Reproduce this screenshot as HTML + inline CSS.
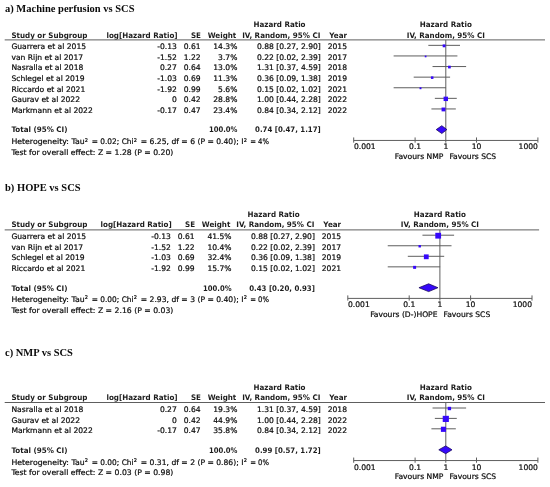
<!DOCTYPE html>
<html lang="en"><head><meta charset="utf-8"><title>Forest plots</title>
<style>
html,body{margin:0;padding:0;background:#fff;}
body{width:550px;height:487px;overflow:hidden;}
svg{display:block;}
text{white-space:pre;}
</style></head><body>
<svg width="550" height="487" viewBox="0 0 550 487">
<rect width="550" height="487" fill="#fff"/>
<text x="5.0" y="12.0" font-weight="bold" font-size="10.5" font-family="'Liberation Serif','DejaVu Serif',serif" fill="#0a0a0a">a) Machine perfusion vs SCS</text>
<text transform="translate(279.5,27.2) scale(0.943,1)" text-anchor="middle" font-weight="bold" font-size="7.6" font-family="'DejaVu Sans','Liberation Sans',sans-serif" fill="#1c1c1c">Hazard Ratio</text>
<text transform="translate(11.4,37.9) scale(0.943,1)" font-weight="bold" font-size="7.6" font-family="'DejaVu Sans','Liberation Sans',sans-serif" fill="#1c1c1c">Study or Subgroup</text>
<text transform="translate(177.6,37.9) scale(0.943,1)" text-anchor="end" font-weight="bold" font-size="7.6" font-family="'DejaVu Sans','Liberation Sans',sans-serif" fill="#1c1c1c">log[Hazard Ratio]</text>
<text transform="translate(201.0,37.9) scale(0.943,1)" text-anchor="end" font-weight="bold" font-size="7.6" font-family="'DejaVu Sans','Liberation Sans',sans-serif" fill="#1c1c1c">SE</text>
<text transform="translate(236.3,37.9) scale(0.943,1)" text-anchor="end" font-weight="bold" font-size="7.6" font-family="'DejaVu Sans','Liberation Sans',sans-serif" fill="#1c1c1c">Weight</text>
<text transform="translate(320.3,37.9) scale(0.943,1)" text-anchor="end" font-weight="bold" font-size="7.6" font-family="'DejaVu Sans','Liberation Sans',sans-serif" fill="#1c1c1c">IV, Random, 95% CI</text>
<text transform="translate(347.0,37.9) scale(0.943,1)" text-anchor="end" font-weight="bold" font-size="7.6" font-family="'DejaVu Sans','Liberation Sans',sans-serif" fill="#1c1c1c">Year</text>
<text transform="translate(445.8,27.2) scale(0.943,1)" text-anchor="middle" font-weight="bold" font-size="7.6" font-family="'DejaVu Sans','Liberation Sans',sans-serif" fill="#1c1c1c">Hazard Ratio</text>
<text transform="translate(445.8,37.9) scale(0.943,1)" text-anchor="middle" font-weight="bold" font-size="7.6" font-family="'DejaVu Sans','Liberation Sans',sans-serif" fill="#1c1c1c">IV, Random, 95% CI</text>
<line x1="4.70" y1="39.90" x2="545.00" y2="39.90" stroke="#5e5e5e" stroke-width="1.0"/>
<line x1="445.80" y1="39.90" x2="445.80" y2="142.65" stroke="#5e5e5e" stroke-width="1.0"/>
<text x="11.4" y="49.2" stroke="#111" stroke-width="0.22" font-size="7.6" font-family="'DejaVu Sans','Liberation Sans',sans-serif" fill="#0a0a0a">Guarrera et al 2015</text>
<text x="176.8" y="49.2" text-anchor="end" stroke="#111" stroke-width="0.22" font-size="7.6" font-family="'DejaVu Sans','Liberation Sans',sans-serif" fill="#0a0a0a">-0.13</text>
<text x="200.6" y="49.2" text-anchor="end" stroke="#111" stroke-width="0.22" font-size="7.6" font-family="'DejaVu Sans','Liberation Sans',sans-serif" fill="#0a0a0a">0.61</text>
<text x="237.4" y="49.2" text-anchor="end" stroke="#111" stroke-width="0.22" font-size="7.6" font-family="'DejaVu Sans','Liberation Sans',sans-serif" fill="#0a0a0a">14.3%</text>
<text x="320.8" y="49.2" text-anchor="end" stroke="#111" stroke-width="0.22" font-size="7.6" font-family="'DejaVu Sans','Liberation Sans',sans-serif" fill="#0a0a0a">0.88 [0.27, 2.90]</text>
<text x="347.0" y="49.2" text-anchor="end" stroke="#111" stroke-width="0.22" font-size="7.6" font-family="'DejaVu Sans','Liberation Sans',sans-serif" fill="#0a0a0a">2015</text>
<line x1="428.34" y1="45.35" x2="460.00" y2="45.35" stroke="#5e5e5e" stroke-width="1.0"/>
<text x="11.4" y="59.8" stroke="#111" stroke-width="0.22" font-size="7.6" font-family="'DejaVu Sans','Liberation Sans',sans-serif" fill="#0a0a0a">van Rijn et al 2017</text>
<text x="176.8" y="59.8" text-anchor="end" stroke="#111" stroke-width="0.22" font-size="7.6" font-family="'DejaVu Sans','Liberation Sans',sans-serif" fill="#0a0a0a">-1.52</text>
<text x="200.6" y="59.8" text-anchor="end" stroke="#111" stroke-width="0.22" font-size="7.6" font-family="'DejaVu Sans','Liberation Sans',sans-serif" fill="#0a0a0a">1.22</text>
<text x="237.4" y="59.8" text-anchor="end" stroke="#111" stroke-width="0.22" font-size="7.6" font-family="'DejaVu Sans','Liberation Sans',sans-serif" fill="#0a0a0a">3.7%</text>
<text x="320.8" y="59.8" text-anchor="end" stroke="#111" stroke-width="0.22" font-size="7.6" font-family="'DejaVu Sans','Liberation Sans',sans-serif" fill="#0a0a0a">0.22 [0.02, 2.39]</text>
<text x="347.0" y="59.8" text-anchor="end" stroke="#111" stroke-width="0.22" font-size="7.6" font-family="'DejaVu Sans','Liberation Sans',sans-serif" fill="#0a0a0a">2017</text>
<line x1="393.64" y1="55.95" x2="457.42" y2="55.95" stroke="#5e5e5e" stroke-width="1.0"/>
<text x="11.4" y="70.4" stroke="#111" stroke-width="0.22" font-size="7.6" font-family="'DejaVu Sans','Liberation Sans',sans-serif" fill="#0a0a0a">Nasralla et al 2018</text>
<text x="176.8" y="70.4" text-anchor="end" stroke="#111" stroke-width="0.22" font-size="7.6" font-family="'DejaVu Sans','Liberation Sans',sans-serif" fill="#0a0a0a">0.27</text>
<text x="200.6" y="70.4" text-anchor="end" stroke="#111" stroke-width="0.22" font-size="7.6" font-family="'DejaVu Sans','Liberation Sans',sans-serif" fill="#0a0a0a">0.64</text>
<text x="237.4" y="70.4" text-anchor="end" stroke="#111" stroke-width="0.22" font-size="7.6" font-family="'DejaVu Sans','Liberation Sans',sans-serif" fill="#0a0a0a">13.0%</text>
<text x="320.8" y="70.4" text-anchor="end" stroke="#111" stroke-width="0.22" font-size="7.6" font-family="'DejaVu Sans','Liberation Sans',sans-serif" fill="#0a0a0a">1.31 [0.37, 4.59]</text>
<text x="347.0" y="70.4" text-anchor="end" stroke="#111" stroke-width="0.22" font-size="7.6" font-family="'DejaVu Sans','Liberation Sans',sans-serif" fill="#0a0a0a">2018</text>
<line x1="432.54" y1="66.55" x2="466.12" y2="66.55" stroke="#5e5e5e" stroke-width="1.0"/>
<text x="11.4" y="81.0" stroke="#111" stroke-width="0.22" font-size="7.6" font-family="'DejaVu Sans','Liberation Sans',sans-serif" fill="#0a0a0a">Schlegel et al 2019</text>
<text x="176.8" y="81.0" text-anchor="end" stroke="#111" stroke-width="0.22" font-size="7.6" font-family="'DejaVu Sans','Liberation Sans',sans-serif" fill="#0a0a0a">-1.03</text>
<text x="200.6" y="81.0" text-anchor="end" stroke="#111" stroke-width="0.22" font-size="7.6" font-family="'DejaVu Sans','Liberation Sans',sans-serif" fill="#0a0a0a">0.69</text>
<text x="237.4" y="81.0" text-anchor="end" stroke="#111" stroke-width="0.22" font-size="7.6" font-family="'DejaVu Sans','Liberation Sans',sans-serif" fill="#0a0a0a">11.3%</text>
<text x="320.8" y="81.0" text-anchor="end" stroke="#111" stroke-width="0.22" font-size="7.6" font-family="'DejaVu Sans','Liberation Sans',sans-serif" fill="#0a0a0a">0.36 [0.09, 1.38]</text>
<text x="347.0" y="81.0" text-anchor="end" stroke="#111" stroke-width="0.22" font-size="7.6" font-family="'DejaVu Sans','Liberation Sans',sans-serif" fill="#0a0a0a">2019</text>
<line x1="413.70" y1="77.15" x2="450.09" y2="77.15" stroke="#5e5e5e" stroke-width="1.0"/>
<text x="11.4" y="91.6" stroke="#111" stroke-width="0.22" font-size="7.6" font-family="'DejaVu Sans','Liberation Sans',sans-serif" fill="#0a0a0a">Riccardo et al 2021</text>
<text x="176.8" y="91.6" text-anchor="end" stroke="#111" stroke-width="0.22" font-size="7.6" font-family="'DejaVu Sans','Liberation Sans',sans-serif" fill="#0a0a0a">-1.92</text>
<text x="200.6" y="91.6" text-anchor="end" stroke="#111" stroke-width="0.22" font-size="7.6" font-family="'DejaVu Sans','Liberation Sans',sans-serif" fill="#0a0a0a">0.99</text>
<text x="237.4" y="91.6" text-anchor="end" stroke="#111" stroke-width="0.22" font-size="7.6" font-family="'DejaVu Sans','Liberation Sans',sans-serif" fill="#0a0a0a">5.6%</text>
<text x="320.8" y="91.6" text-anchor="end" stroke="#111" stroke-width="0.22" font-size="7.6" font-family="'DejaVu Sans','Liberation Sans',sans-serif" fill="#0a0a0a">0.15 [0.02, 1.02]</text>
<text x="347.0" y="91.6" text-anchor="end" stroke="#111" stroke-width="0.22" font-size="7.6" font-family="'DejaVu Sans','Liberation Sans',sans-serif" fill="#0a0a0a">2021</text>
<line x1="393.64" y1="87.75" x2="446.06" y2="87.75" stroke="#5e5e5e" stroke-width="1.0"/>
<text x="11.4" y="102.2" stroke="#111" stroke-width="0.22" font-size="7.6" font-family="'DejaVu Sans','Liberation Sans',sans-serif" fill="#0a0a0a">Gaurav et al 2022</text>
<text x="176.8" y="102.2" text-anchor="end" stroke="#111" stroke-width="0.22" font-size="7.6" font-family="'DejaVu Sans','Liberation Sans',sans-serif" fill="#0a0a0a">0</text>
<text x="200.6" y="102.2" text-anchor="end" stroke="#111" stroke-width="0.22" font-size="7.6" font-family="'DejaVu Sans','Liberation Sans',sans-serif" fill="#0a0a0a">0.42</text>
<text x="237.4" y="102.2" text-anchor="end" stroke="#111" stroke-width="0.22" font-size="7.6" font-family="'DejaVu Sans','Liberation Sans',sans-serif" fill="#0a0a0a">28.8%</text>
<text x="320.8" y="102.2" text-anchor="end" stroke="#111" stroke-width="0.22" font-size="7.6" font-family="'DejaVu Sans','Liberation Sans',sans-serif" fill="#0a0a0a">1.00 [0.44, 2.28]</text>
<text x="347.0" y="102.2" text-anchor="end" stroke="#111" stroke-width="0.22" font-size="7.6" font-family="'DejaVu Sans','Liberation Sans',sans-serif" fill="#0a0a0a">2022</text>
<line x1="434.85" y1="98.35" x2="456.79" y2="98.35" stroke="#5e5e5e" stroke-width="1.0"/>
<text x="11.4" y="112.8" stroke="#111" stroke-width="0.22" font-size="7.6" font-family="'DejaVu Sans','Liberation Sans',sans-serif" fill="#0a0a0a">Markmann et al 2022</text>
<text x="176.8" y="112.8" text-anchor="end" stroke="#111" stroke-width="0.22" font-size="7.6" font-family="'DejaVu Sans','Liberation Sans',sans-serif" fill="#0a0a0a">-0.17</text>
<text x="200.6" y="112.8" text-anchor="end" stroke="#111" stroke-width="0.22" font-size="7.6" font-family="'DejaVu Sans','Liberation Sans',sans-serif" fill="#0a0a0a">0.47</text>
<text x="237.4" y="112.8" text-anchor="end" stroke="#111" stroke-width="0.22" font-size="7.6" font-family="'DejaVu Sans','Liberation Sans',sans-serif" fill="#0a0a0a">23.4%</text>
<text x="320.8" y="112.8" text-anchor="end" stroke="#111" stroke-width="0.22" font-size="7.6" font-family="'DejaVu Sans','Liberation Sans',sans-serif" fill="#0a0a0a">0.84 [0.34, 2.12]</text>
<text x="347.0" y="112.8" text-anchor="end" stroke="#111" stroke-width="0.22" font-size="7.6" font-family="'DejaVu Sans','Liberation Sans',sans-serif" fill="#0a0a0a">2022</text>
<line x1="431.42" y1="108.95" x2="455.82" y2="108.95" stroke="#5e5e5e" stroke-width="1.0"/>
<rect x="442.67" y="44.43" width="2.84" height="2.84" fill="#3608fb"/>
<rect x="424.76" y="55.60" width="1.70" height="1.70" fill="#3608fb"/>
<rect x="448.05" y="65.70" width="2.70" height="2.70" fill="#3608fb"/>
<rect x="430.92" y="76.39" width="2.52" height="2.52" fill="#3608fb"/>
<rect x="419.55" y="87.30" width="1.90" height="1.90" fill="#3608fb"/>
<rect x="443.59" y="96.64" width="4.41" height="4.41" fill="#3608fb"/>
<rect x="441.56" y="107.54" width="3.83" height="3.83" fill="#3608fb"/>
<text transform="translate(11.4,132.2) scale(0.943,1)" font-weight="bold" font-size="7.6" font-family="'DejaVu Sans','Liberation Sans',sans-serif" fill="#1c1c1c">Total (95% CI)</text>
<text transform="translate(237.4,132.2) scale(0.943,1)" text-anchor="end" font-weight="bold" textLength="30.2" lengthAdjust="spacingAndGlyphs" font-size="7.6" font-family="'DejaVu Sans','Liberation Sans',sans-serif" fill="#1c1c1c">100.0%</text>
<text transform="translate(320.8,132.2) scale(0.943,1)" text-anchor="end" font-weight="bold" textLength="69.7" lengthAdjust="spacingAndGlyphs" font-size="7.6" font-family="'DejaVu Sans','Liberation Sans',sans-serif" fill="#1c1c1c">0.74 [0.47, 1.17]</text>
<text x="11.4" y="144.2" stroke="#111" stroke-width="0.22" textLength="73.2" lengthAdjust="spacingAndGlyphs" font-size="7.6" font-family="'DejaVu Sans','Liberation Sans',sans-serif" fill="#0a0a0a">Heterogeneity: Tau</text>
<text x="84.7" y="141.5" stroke="#111" stroke-width="0.22" font-size="5" font-family="'DejaVu Sans','Liberation Sans',sans-serif" fill="#0a0a0a">2</text>
<text x="91.7" y="144.2" stroke="#111" stroke-width="0.22" textLength="41.9" lengthAdjust="spacingAndGlyphs" font-size="7.6" font-family="'DejaVu Sans','Liberation Sans',sans-serif" fill="#0a0a0a">= 0.02; Chi</text>
<text x="133.8" y="141.5" stroke="#111" stroke-width="0.22" font-size="5" font-family="'DejaVu Sans','Liberation Sans',sans-serif" fill="#0a0a0a">2</text>
<text x="140.8" y="144.2" stroke="#111" stroke-width="0.22" textLength="102.6" lengthAdjust="spacingAndGlyphs" font-size="7.6" font-family="'DejaVu Sans','Liberation Sans',sans-serif" fill="#0a0a0a">= 6.25, df = 6 (P = 0.40); I</text>
<text x="243.8" y="141.5" stroke="#111" stroke-width="0.22" font-size="5" font-family="'DejaVu Sans','Liberation Sans',sans-serif" fill="#0a0a0a">2</text>
<text x="250.2" y="144.2" stroke="#111" stroke-width="0.22" textLength="18.8" lengthAdjust="spacingAndGlyphs" font-size="7.6" font-family="'DejaVu Sans','Liberation Sans',sans-serif" fill="#0a0a0a">= 4%</text>
<text x="11.4" y="155.1" stroke="#111" stroke-width="0.22" textLength="162.0" lengthAdjust="spacingAndGlyphs" font-size="7.6" font-family="'DejaVu Sans','Liberation Sans',sans-serif" fill="#0a0a0a">Test for overall effect: Z = 1.28 (P = 0.20)</text>
<polygon points="436.23,129.60 441.79,125.70 446.89,129.60 441.79,133.50" fill="#3608fb" stroke="#1a0a60" stroke-width="0.8" stroke-linejoin="round"/>
<line x1="353.70" y1="140.45" x2="537.90" y2="140.45" stroke="#5e5e5e" stroke-width="1.0"/>
<line x1="353.70" y1="137.45" x2="353.70" y2="142.65" stroke="#5e5e5e" stroke-width="1.0"/>
<line x1="415.10" y1="137.45" x2="415.10" y2="142.65" stroke="#5e5e5e" stroke-width="1.0"/>
<line x1="476.50" y1="137.45" x2="476.50" y2="142.65" stroke="#5e5e5e" stroke-width="1.0"/>
<line x1="537.90" y1="137.45" x2="537.90" y2="142.65" stroke="#5e5e5e" stroke-width="1.0"/>
<text x="353.9" y="149.4" stroke="#111" stroke-width="0.22" textLength="21.8" lengthAdjust="spacingAndGlyphs" font-size="7.6" font-family="'DejaVu Sans','Liberation Sans',sans-serif" fill="#0a0a0a">0.001</text>
<text x="415.1" y="149.4" text-anchor="middle" stroke="#111" stroke-width="0.22" font-size="7.6" font-family="'DejaVu Sans','Liberation Sans',sans-serif" fill="#0a0a0a">0.1</text>
<text x="445.8" y="149.4" text-anchor="middle" stroke="#111" stroke-width="0.22" font-size="7.6" font-family="'DejaVu Sans','Liberation Sans',sans-serif" fill="#0a0a0a">1</text>
<text x="476.5" y="149.4" text-anchor="middle" stroke="#111" stroke-width="0.22" font-size="7.6" font-family="'DejaVu Sans','Liberation Sans',sans-serif" fill="#0a0a0a">10</text>
<text x="537.9" y="149.4" text-anchor="end" stroke="#111" stroke-width="0.22" font-size="7.6" font-family="'DejaVu Sans','Liberation Sans',sans-serif" fill="#0a0a0a">1000</text>
<text x="443.4" y="158.7" text-anchor="end" stroke="#111" stroke-width="0.22" font-size="7.6" font-family="'DejaVu Sans','Liberation Sans',sans-serif" fill="#0a0a0a">Favours NMP</text>
<text x="449.4" y="158.7" stroke="#111" stroke-width="0.22" font-size="7.6" font-family="'DejaVu Sans','Liberation Sans',sans-serif" fill="#0a0a0a">Favours SCS</text>
<text x="5.0" y="190.5" font-weight="bold" font-size="10.5" font-family="'Liberation Serif','DejaVu Serif',serif" fill="#0a0a0a">b) HOPE vs SCS</text>
<text transform="translate(273.6,216.6) scale(0.943,1)" text-anchor="middle" font-weight="bold" font-size="7.6" font-family="'DejaVu Sans','Liberation Sans',sans-serif" fill="#1c1c1c">Hazard Ratio</text>
<text transform="translate(11.4,227.2) scale(0.943,1)" font-weight="bold" font-size="7.6" font-family="'DejaVu Sans','Liberation Sans',sans-serif" fill="#1c1c1c">Study or Subgroup</text>
<text transform="translate(171.7,227.2) scale(0.943,1)" text-anchor="end" font-weight="bold" font-size="7.6" font-family="'DejaVu Sans','Liberation Sans',sans-serif" fill="#1c1c1c">log[Hazard Ratio]</text>
<text transform="translate(195.1,227.2) scale(0.943,1)" text-anchor="end" font-weight="bold" font-size="7.6" font-family="'DejaVu Sans','Liberation Sans',sans-serif" fill="#1c1c1c">SE</text>
<text transform="translate(230.4,227.2) scale(0.943,1)" text-anchor="end" font-weight="bold" font-size="7.6" font-family="'DejaVu Sans','Liberation Sans',sans-serif" fill="#1c1c1c">Weight</text>
<text transform="translate(314.4,227.2) scale(0.943,1)" text-anchor="end" font-weight="bold" font-size="7.6" font-family="'DejaVu Sans','Liberation Sans',sans-serif" fill="#1c1c1c">IV, Random, 95% CI</text>
<text transform="translate(341.1,227.2) scale(0.943,1)" text-anchor="end" font-weight="bold" font-size="7.6" font-family="'DejaVu Sans','Liberation Sans',sans-serif" fill="#1c1c1c">Year</text>
<text transform="translate(439.9,216.6) scale(0.943,1)" text-anchor="middle" font-weight="bold" font-size="7.6" font-family="'DejaVu Sans','Liberation Sans',sans-serif" fill="#1c1c1c">Hazard Ratio</text>
<text transform="translate(439.9,227.2) scale(0.943,1)" text-anchor="middle" font-weight="bold" font-size="7.6" font-family="'DejaVu Sans','Liberation Sans',sans-serif" fill="#1c1c1c">IV, Random, 95% CI</text>
<line x1="4.70" y1="229.90" x2="539.10" y2="229.90" stroke="#5e5e5e" stroke-width="1.0"/>
<line x1="439.90" y1="229.90" x2="439.90" y2="300.60" stroke="#5e5e5e" stroke-width="1.0"/>
<text x="11.4" y="239.1" stroke="#111" stroke-width="0.22" font-size="7.6" font-family="'DejaVu Sans','Liberation Sans',sans-serif" fill="#0a0a0a">Guarrera et al 2015</text>
<text x="170.9" y="239.1" text-anchor="end" stroke="#111" stroke-width="0.22" font-size="7.6" font-family="'DejaVu Sans','Liberation Sans',sans-serif" fill="#0a0a0a">-0.13</text>
<text x="194.7" y="239.1" text-anchor="end" stroke="#111" stroke-width="0.22" font-size="7.6" font-family="'DejaVu Sans','Liberation Sans',sans-serif" fill="#0a0a0a">0.61</text>
<text x="231.5" y="239.1" text-anchor="end" stroke="#111" stroke-width="0.22" font-size="7.6" font-family="'DejaVu Sans','Liberation Sans',sans-serif" fill="#0a0a0a">41.5%</text>
<text x="314.9" y="239.1" text-anchor="end" stroke="#111" stroke-width="0.22" font-size="7.6" font-family="'DejaVu Sans','Liberation Sans',sans-serif" fill="#0a0a0a">0.88 [0.27, 2.90]</text>
<text x="341.1" y="239.1" text-anchor="end" stroke="#111" stroke-width="0.22" font-size="7.6" font-family="'DejaVu Sans','Liberation Sans',sans-serif" fill="#0a0a0a">2015</text>
<line x1="422.44" y1="235.20" x2="454.10" y2="235.20" stroke="#5e5e5e" stroke-width="1.0"/>
<text x="11.4" y="249.7" stroke="#111" stroke-width="0.22" font-size="7.6" font-family="'DejaVu Sans','Liberation Sans',sans-serif" fill="#0a0a0a">van Rijn et al 2017</text>
<text x="170.9" y="249.7" text-anchor="end" stroke="#111" stroke-width="0.22" font-size="7.6" font-family="'DejaVu Sans','Liberation Sans',sans-serif" fill="#0a0a0a">-1.52</text>
<text x="194.7" y="249.7" text-anchor="end" stroke="#111" stroke-width="0.22" font-size="7.6" font-family="'DejaVu Sans','Liberation Sans',sans-serif" fill="#0a0a0a">1.22</text>
<text x="231.5" y="249.7" text-anchor="end" stroke="#111" stroke-width="0.22" font-size="7.6" font-family="'DejaVu Sans','Liberation Sans',sans-serif" fill="#0a0a0a">10.4%</text>
<text x="314.9" y="249.7" text-anchor="end" stroke="#111" stroke-width="0.22" font-size="7.6" font-family="'DejaVu Sans','Liberation Sans',sans-serif" fill="#0a0a0a">0.22 [0.02, 2.39]</text>
<text x="341.1" y="249.7" text-anchor="end" stroke="#111" stroke-width="0.22" font-size="7.6" font-family="'DejaVu Sans','Liberation Sans',sans-serif" fill="#0a0a0a">2017</text>
<line x1="387.74" y1="245.75" x2="451.52" y2="245.75" stroke="#5e5e5e" stroke-width="1.0"/>
<text x="11.4" y="260.2" stroke="#111" stroke-width="0.22" font-size="7.6" font-family="'DejaVu Sans','Liberation Sans',sans-serif" fill="#0a0a0a">Schlegel et al 2019</text>
<text x="170.9" y="260.2" text-anchor="end" stroke="#111" stroke-width="0.22" font-size="7.6" font-family="'DejaVu Sans','Liberation Sans',sans-serif" fill="#0a0a0a">-1.03</text>
<text x="194.7" y="260.2" text-anchor="end" stroke="#111" stroke-width="0.22" font-size="7.6" font-family="'DejaVu Sans','Liberation Sans',sans-serif" fill="#0a0a0a">0.69</text>
<text x="231.5" y="260.2" text-anchor="end" stroke="#111" stroke-width="0.22" font-size="7.6" font-family="'DejaVu Sans','Liberation Sans',sans-serif" fill="#0a0a0a">32.4%</text>
<text x="314.9" y="260.2" text-anchor="end" stroke="#111" stroke-width="0.22" font-size="7.6" font-family="'DejaVu Sans','Liberation Sans',sans-serif" fill="#0a0a0a">0.36 [0.09, 1.38]</text>
<text x="341.1" y="260.2" text-anchor="end" stroke="#111" stroke-width="0.22" font-size="7.6" font-family="'DejaVu Sans','Liberation Sans',sans-serif" fill="#0a0a0a">2019</text>
<line x1="407.80" y1="256.30" x2="444.19" y2="256.30" stroke="#5e5e5e" stroke-width="1.0"/>
<text x="11.4" y="270.8" stroke="#111" stroke-width="0.22" font-size="7.6" font-family="'DejaVu Sans','Liberation Sans',sans-serif" fill="#0a0a0a">Riccardo et al 2021</text>
<text x="170.9" y="270.8" text-anchor="end" stroke="#111" stroke-width="0.22" font-size="7.6" font-family="'DejaVu Sans','Liberation Sans',sans-serif" fill="#0a0a0a">-1.92</text>
<text x="194.7" y="270.8" text-anchor="end" stroke="#111" stroke-width="0.22" font-size="7.6" font-family="'DejaVu Sans','Liberation Sans',sans-serif" fill="#0a0a0a">0.99</text>
<text x="231.5" y="270.8" text-anchor="end" stroke="#111" stroke-width="0.22" font-size="7.6" font-family="'DejaVu Sans','Liberation Sans',sans-serif" fill="#0a0a0a">15.7%</text>
<text x="314.9" y="270.8" text-anchor="end" stroke="#111" stroke-width="0.22" font-size="7.6" font-family="'DejaVu Sans','Liberation Sans',sans-serif" fill="#0a0a0a">0.15 [0.02, 1.02]</text>
<text x="341.1" y="270.8" text-anchor="end" stroke="#111" stroke-width="0.22" font-size="7.6" font-family="'DejaVu Sans','Liberation Sans',sans-serif" fill="#0a0a0a">2021</text>
<line x1="387.74" y1="266.85" x2="440.16" y2="266.85" stroke="#5e5e5e" stroke-width="1.0"/>
<rect x="435.30" y="232.81" width="5.78" height="5.78" fill="#3608fb"/>
<rect x="418.50" y="245.04" width="2.42" height="2.42" fill="#3608fb"/>
<rect x="423.88" y="254.40" width="4.80" height="4.80" fill="#3608fb"/>
<rect x="413.11" y="265.85" width="3.00" height="3.00" fill="#3608fb"/>
<text transform="translate(11.4,291.4) scale(0.943,1)" font-weight="bold" font-size="7.6" font-family="'DejaVu Sans','Liberation Sans',sans-serif" fill="#1c1c1c">Total (95% CI)</text>
<text transform="translate(231.5,291.4) scale(0.943,1)" text-anchor="end" font-weight="bold" textLength="30.2" lengthAdjust="spacingAndGlyphs" font-size="7.6" font-family="'DejaVu Sans','Liberation Sans',sans-serif" fill="#1c1c1c">100.0%</text>
<text transform="translate(314.9,291.4) scale(0.943,1)" text-anchor="end" font-weight="bold" textLength="69.7" lengthAdjust="spacingAndGlyphs" font-size="7.6" font-family="'DejaVu Sans','Liberation Sans',sans-serif" fill="#1c1c1c">0.43 [0.20, 0.93]</text>
<text x="11.4" y="301.6" stroke="#111" stroke-width="0.22" textLength="73.2" lengthAdjust="spacingAndGlyphs" font-size="7.6" font-family="'DejaVu Sans','Liberation Sans',sans-serif" fill="#0a0a0a">Heterogeneity: Tau</text>
<text x="84.7" y="298.9" stroke="#111" stroke-width="0.22" font-size="5" font-family="'DejaVu Sans','Liberation Sans',sans-serif" fill="#0a0a0a">2</text>
<text x="91.7" y="301.6" stroke="#111" stroke-width="0.22" textLength="41.9" lengthAdjust="spacingAndGlyphs" font-size="7.6" font-family="'DejaVu Sans','Liberation Sans',sans-serif" fill="#0a0a0a">= 0.00; Chi</text>
<text x="133.8" y="298.9" stroke="#111" stroke-width="0.22" font-size="5" font-family="'DejaVu Sans','Liberation Sans',sans-serif" fill="#0a0a0a">2</text>
<text x="140.8" y="301.6" stroke="#111" stroke-width="0.22" textLength="102.6" lengthAdjust="spacingAndGlyphs" font-size="7.6" font-family="'DejaVu Sans','Liberation Sans',sans-serif" fill="#0a0a0a">= 2.93, df = 3 (P = 0.40); I</text>
<text x="243.8" y="298.9" stroke="#111" stroke-width="0.22" font-size="5" font-family="'DejaVu Sans','Liberation Sans',sans-serif" fill="#0a0a0a">2</text>
<text x="250.2" y="301.6" stroke="#111" stroke-width="0.22" textLength="18.8" lengthAdjust="spacingAndGlyphs" font-size="7.6" font-family="'DejaVu Sans','Liberation Sans',sans-serif" fill="#0a0a0a">= 0%</text>
<text x="11.4" y="312.8" stroke="#111" stroke-width="0.22" textLength="162.0" lengthAdjust="spacingAndGlyphs" font-size="7.6" font-family="'DejaVu Sans','Liberation Sans',sans-serif" fill="#0a0a0a">Test for overall effect: Z = 2.16 (P = 0.03)</text>
<polygon points="418.94,287.70 428.65,283.80 437.93,287.70 428.65,291.60" fill="#3608fb" stroke="#1a0a60" stroke-width="0.8" stroke-linejoin="round"/>
<line x1="347.80" y1="298.40" x2="532.00" y2="298.40" stroke="#5e5e5e" stroke-width="1.0"/>
<line x1="347.80" y1="295.40" x2="347.80" y2="300.60" stroke="#5e5e5e" stroke-width="1.0"/>
<line x1="409.20" y1="295.40" x2="409.20" y2="300.60" stroke="#5e5e5e" stroke-width="1.0"/>
<line x1="470.60" y1="295.40" x2="470.60" y2="300.60" stroke="#5e5e5e" stroke-width="1.0"/>
<line x1="532.00" y1="295.40" x2="532.00" y2="300.60" stroke="#5e5e5e" stroke-width="1.0"/>
<text x="348.0" y="307.4" stroke="#111" stroke-width="0.22" textLength="21.8" lengthAdjust="spacingAndGlyphs" font-size="7.6" font-family="'DejaVu Sans','Liberation Sans',sans-serif" fill="#0a0a0a">0.001</text>
<text x="409.2" y="307.4" text-anchor="middle" stroke="#111" stroke-width="0.22" font-size="7.6" font-family="'DejaVu Sans','Liberation Sans',sans-serif" fill="#0a0a0a">0.1</text>
<text x="439.9" y="307.4" text-anchor="middle" stroke="#111" stroke-width="0.22" font-size="7.6" font-family="'DejaVu Sans','Liberation Sans',sans-serif" fill="#0a0a0a">1</text>
<text x="470.6" y="307.4" text-anchor="middle" stroke="#111" stroke-width="0.22" font-size="7.6" font-family="'DejaVu Sans','Liberation Sans',sans-serif" fill="#0a0a0a">10</text>
<text x="532.0" y="307.4" text-anchor="end" stroke="#111" stroke-width="0.22" font-size="7.6" font-family="'DejaVu Sans','Liberation Sans',sans-serif" fill="#0a0a0a">1000</text>
<text x="437.5" y="316.6" text-anchor="end" stroke="#111" stroke-width="0.22" font-size="7.6" font-family="'DejaVu Sans','Liberation Sans',sans-serif" fill="#0a0a0a">Favours (D-)HOPE</text>
<text x="443.5" y="316.6" stroke="#111" stroke-width="0.22" font-size="7.6" font-family="'DejaVu Sans','Liberation Sans',sans-serif" fill="#0a0a0a">Favours SCS</text>
<text x="5.0" y="356.2" font-weight="bold" font-size="10.5" font-family="'Liberation Serif','DejaVu Serif',serif" fill="#0a0a0a">c) NMP vs SCS</text>
<text transform="translate(279.5,389.6) scale(0.943,1)" text-anchor="middle" font-weight="bold" font-size="7.6" font-family="'DejaVu Sans','Liberation Sans',sans-serif" fill="#1c1c1c">Hazard Ratio</text>
<text transform="translate(11.4,400.0) scale(0.943,1)" font-weight="bold" font-size="7.6" font-family="'DejaVu Sans','Liberation Sans',sans-serif" fill="#1c1c1c">Study or Subgroup</text>
<text transform="translate(177.6,400.0) scale(0.943,1)" text-anchor="end" font-weight="bold" font-size="7.6" font-family="'DejaVu Sans','Liberation Sans',sans-serif" fill="#1c1c1c">log[Hazard Ratio]</text>
<text transform="translate(201.0,400.0) scale(0.943,1)" text-anchor="end" font-weight="bold" font-size="7.6" font-family="'DejaVu Sans','Liberation Sans',sans-serif" fill="#1c1c1c">SE</text>
<text transform="translate(236.3,400.0) scale(0.943,1)" text-anchor="end" font-weight="bold" font-size="7.6" font-family="'DejaVu Sans','Liberation Sans',sans-serif" fill="#1c1c1c">Weight</text>
<text transform="translate(320.3,400.0) scale(0.943,1)" text-anchor="end" font-weight="bold" font-size="7.6" font-family="'DejaVu Sans','Liberation Sans',sans-serif" fill="#1c1c1c">IV, Random, 95% CI</text>
<text transform="translate(347.0,400.0) scale(0.943,1)" text-anchor="end" font-weight="bold" font-size="7.6" font-family="'DejaVu Sans','Liberation Sans',sans-serif" fill="#1c1c1c">Year</text>
<text transform="translate(445.8,389.6) scale(0.943,1)" text-anchor="middle" font-weight="bold" font-size="7.6" font-family="'DejaVu Sans','Liberation Sans',sans-serif" fill="#1c1c1c">Hazard Ratio</text>
<text transform="translate(445.8,400.0) scale(0.943,1)" text-anchor="middle" font-weight="bold" font-size="7.6" font-family="'DejaVu Sans','Liberation Sans',sans-serif" fill="#1c1c1c">IV, Random, 95% CI</text>
<line x1="4.70" y1="402.50" x2="545.00" y2="402.50" stroke="#5e5e5e" stroke-width="1.0"/>
<line x1="445.80" y1="402.50" x2="445.80" y2="462.75" stroke="#5e5e5e" stroke-width="1.0"/>
<text x="11.4" y="412.1" stroke="#111" stroke-width="0.22" font-size="7.6" font-family="'DejaVu Sans','Liberation Sans',sans-serif" fill="#0a0a0a">Nasralla et al 2018</text>
<text x="176.8" y="412.1" text-anchor="end" stroke="#111" stroke-width="0.22" font-size="7.6" font-family="'DejaVu Sans','Liberation Sans',sans-serif" fill="#0a0a0a">0.27</text>
<text x="200.6" y="412.1" text-anchor="end" stroke="#111" stroke-width="0.22" font-size="7.6" font-family="'DejaVu Sans','Liberation Sans',sans-serif" fill="#0a0a0a">0.64</text>
<text x="237.4" y="412.1" text-anchor="end" stroke="#111" stroke-width="0.22" font-size="7.6" font-family="'DejaVu Sans','Liberation Sans',sans-serif" fill="#0a0a0a">19.3%</text>
<text x="320.8" y="412.1" text-anchor="end" stroke="#111" stroke-width="0.22" font-size="7.6" font-family="'DejaVu Sans','Liberation Sans',sans-serif" fill="#0a0a0a">1.31 [0.37, 4.59]</text>
<text x="347.0" y="412.1" text-anchor="end" stroke="#111" stroke-width="0.22" font-size="7.6" font-family="'DejaVu Sans','Liberation Sans',sans-serif" fill="#0a0a0a">2018</text>
<line x1="432.54" y1="408.00" x2="466.12" y2="408.00" stroke="#5e5e5e" stroke-width="1.0"/>
<text x="11.4" y="422.5" stroke="#111" stroke-width="0.22" font-size="7.6" font-family="'DejaVu Sans','Liberation Sans',sans-serif" fill="#0a0a0a">Gaurav et al 2022</text>
<text x="176.8" y="422.5" text-anchor="end" stroke="#111" stroke-width="0.22" font-size="7.6" font-family="'DejaVu Sans','Liberation Sans',sans-serif" fill="#0a0a0a">0</text>
<text x="200.6" y="422.5" text-anchor="end" stroke="#111" stroke-width="0.22" font-size="7.6" font-family="'DejaVu Sans','Liberation Sans',sans-serif" fill="#0a0a0a">0.42</text>
<text x="237.4" y="422.5" text-anchor="end" stroke="#111" stroke-width="0.22" font-size="7.6" font-family="'DejaVu Sans','Liberation Sans',sans-serif" fill="#0a0a0a">44.9%</text>
<text x="320.8" y="422.5" text-anchor="end" stroke="#111" stroke-width="0.22" font-size="7.6" font-family="'DejaVu Sans','Liberation Sans',sans-serif" fill="#0a0a0a">1.00 [0.44, 2.28]</text>
<text x="347.0" y="422.5" text-anchor="end" stroke="#111" stroke-width="0.22" font-size="7.6" font-family="'DejaVu Sans','Liberation Sans',sans-serif" fill="#0a0a0a">2022</text>
<line x1="434.85" y1="418.40" x2="456.79" y2="418.40" stroke="#5e5e5e" stroke-width="1.0"/>
<text x="11.4" y="432.9" stroke="#111" stroke-width="0.22" font-size="7.6" font-family="'DejaVu Sans','Liberation Sans',sans-serif" fill="#0a0a0a">Markmann et al 2022</text>
<text x="176.8" y="432.9" text-anchor="end" stroke="#111" stroke-width="0.22" font-size="7.6" font-family="'DejaVu Sans','Liberation Sans',sans-serif" fill="#0a0a0a">-0.17</text>
<text x="200.6" y="432.9" text-anchor="end" stroke="#111" stroke-width="0.22" font-size="7.6" font-family="'DejaVu Sans','Liberation Sans',sans-serif" fill="#0a0a0a">0.47</text>
<text x="237.4" y="432.9" text-anchor="end" stroke="#111" stroke-width="0.22" font-size="7.6" font-family="'DejaVu Sans','Liberation Sans',sans-serif" fill="#0a0a0a">35.8%</text>
<text x="320.8" y="432.9" text-anchor="end" stroke="#111" stroke-width="0.22" font-size="7.6" font-family="'DejaVu Sans','Liberation Sans',sans-serif" fill="#0a0a0a">0.84 [0.34, 2.12]</text>
<text x="347.0" y="432.9" text-anchor="end" stroke="#111" stroke-width="0.22" font-size="7.6" font-family="'DejaVu Sans','Liberation Sans',sans-serif" fill="#0a0a0a">2022</text>
<line x1="431.42" y1="428.80" x2="455.82" y2="428.80" stroke="#5e5e5e" stroke-width="1.0"/>
<rect x="447.71" y="406.81" width="3.38" height="3.38" fill="#3608fb"/>
<rect x="442.73" y="415.83" width="6.15" height="6.15" fill="#3608fb"/>
<rect x="440.89" y="426.72" width="5.17" height="5.17" fill="#3608fb"/>
<text transform="translate(11.4,452.8) scale(0.943,1)" font-weight="bold" font-size="7.6" font-family="'DejaVu Sans','Liberation Sans',sans-serif" fill="#1c1c1c">Total (95% CI)</text>
<text transform="translate(237.4,452.8) scale(0.943,1)" text-anchor="end" font-weight="bold" textLength="30.2" lengthAdjust="spacingAndGlyphs" font-size="7.6" font-family="'DejaVu Sans','Liberation Sans',sans-serif" fill="#1c1c1c">100.0%</text>
<text transform="translate(320.8,452.8) scale(0.943,1)" text-anchor="end" font-weight="bold" textLength="69.7" lengthAdjust="spacingAndGlyphs" font-size="7.6" font-family="'DejaVu Sans','Liberation Sans',sans-serif" fill="#1c1c1c">0.99 [0.57, 1.72]</text>
<text x="11.4" y="464.5" stroke="#111" stroke-width="0.22" textLength="73.2" lengthAdjust="spacingAndGlyphs" font-size="7.6" font-family="'DejaVu Sans','Liberation Sans',sans-serif" fill="#0a0a0a">Heterogeneity: Tau</text>
<text x="84.7" y="461.8" stroke="#111" stroke-width="0.22" font-size="5" font-family="'DejaVu Sans','Liberation Sans',sans-serif" fill="#0a0a0a">2</text>
<text x="91.7" y="464.5" stroke="#111" stroke-width="0.22" textLength="41.9" lengthAdjust="spacingAndGlyphs" font-size="7.6" font-family="'DejaVu Sans','Liberation Sans',sans-serif" fill="#0a0a0a">= 0.00; Chi</text>
<text x="133.8" y="461.8" stroke="#111" stroke-width="0.22" font-size="5" font-family="'DejaVu Sans','Liberation Sans',sans-serif" fill="#0a0a0a">2</text>
<text x="140.8" y="464.5" stroke="#111" stroke-width="0.22" textLength="102.6" lengthAdjust="spacingAndGlyphs" font-size="7.6" font-family="'DejaVu Sans','Liberation Sans',sans-serif" fill="#0a0a0a">= 0.31, df = 2 (P = 0.86); I</text>
<text x="243.8" y="461.8" stroke="#111" stroke-width="0.22" font-size="5" font-family="'DejaVu Sans','Liberation Sans',sans-serif" fill="#0a0a0a">2</text>
<text x="250.2" y="464.5" stroke="#111" stroke-width="0.22" textLength="18.8" lengthAdjust="spacingAndGlyphs" font-size="7.6" font-family="'DejaVu Sans','Liberation Sans',sans-serif" fill="#0a0a0a">= 0%</text>
<text x="11.4" y="475.1" stroke="#111" stroke-width="0.22" textLength="162.0" lengthAdjust="spacingAndGlyphs" font-size="7.6" font-family="'DejaVu Sans','Liberation Sans',sans-serif" fill="#0a0a0a">Test for overall effect: Z = 0.03 (P = 0.98)</text>
<polygon points="438.81,449.80 445.67,445.90 452.03,449.80 445.67,453.70" fill="#3608fb" stroke="#1a0a60" stroke-width="0.8" stroke-linejoin="round"/>
<line x1="353.70" y1="460.55" x2="537.90" y2="460.55" stroke="#5e5e5e" stroke-width="1.0"/>
<line x1="353.70" y1="457.55" x2="353.70" y2="462.75" stroke="#5e5e5e" stroke-width="1.0"/>
<line x1="415.10" y1="457.55" x2="415.10" y2="462.75" stroke="#5e5e5e" stroke-width="1.0"/>
<line x1="476.50" y1="457.55" x2="476.50" y2="462.75" stroke="#5e5e5e" stroke-width="1.0"/>
<line x1="537.90" y1="457.55" x2="537.90" y2="462.75" stroke="#5e5e5e" stroke-width="1.0"/>
<text x="353.9" y="469.9" stroke="#111" stroke-width="0.22" textLength="21.8" lengthAdjust="spacingAndGlyphs" font-size="7.6" font-family="'DejaVu Sans','Liberation Sans',sans-serif" fill="#0a0a0a">0.001</text>
<text x="415.1" y="469.9" text-anchor="middle" stroke="#111" stroke-width="0.22" font-size="7.6" font-family="'DejaVu Sans','Liberation Sans',sans-serif" fill="#0a0a0a">0.1</text>
<text x="445.8" y="469.9" text-anchor="middle" stroke="#111" stroke-width="0.22" font-size="7.6" font-family="'DejaVu Sans','Liberation Sans',sans-serif" fill="#0a0a0a">1</text>
<text x="476.5" y="469.9" text-anchor="middle" stroke="#111" stroke-width="0.22" font-size="7.6" font-family="'DejaVu Sans','Liberation Sans',sans-serif" fill="#0a0a0a">10</text>
<text x="537.9" y="469.9" text-anchor="end" stroke="#111" stroke-width="0.22" font-size="7.6" font-family="'DejaVu Sans','Liberation Sans',sans-serif" fill="#0a0a0a">1000</text>
<text x="443.4" y="479.3" text-anchor="end" stroke="#111" stroke-width="0.22" font-size="7.6" font-family="'DejaVu Sans','Liberation Sans',sans-serif" fill="#0a0a0a">Favours NMP</text>
<text x="449.4" y="479.3" stroke="#111" stroke-width="0.22" font-size="7.6" font-family="'DejaVu Sans','Liberation Sans',sans-serif" fill="#0a0a0a">Favours SCS</text>
</svg>
</body></html>
